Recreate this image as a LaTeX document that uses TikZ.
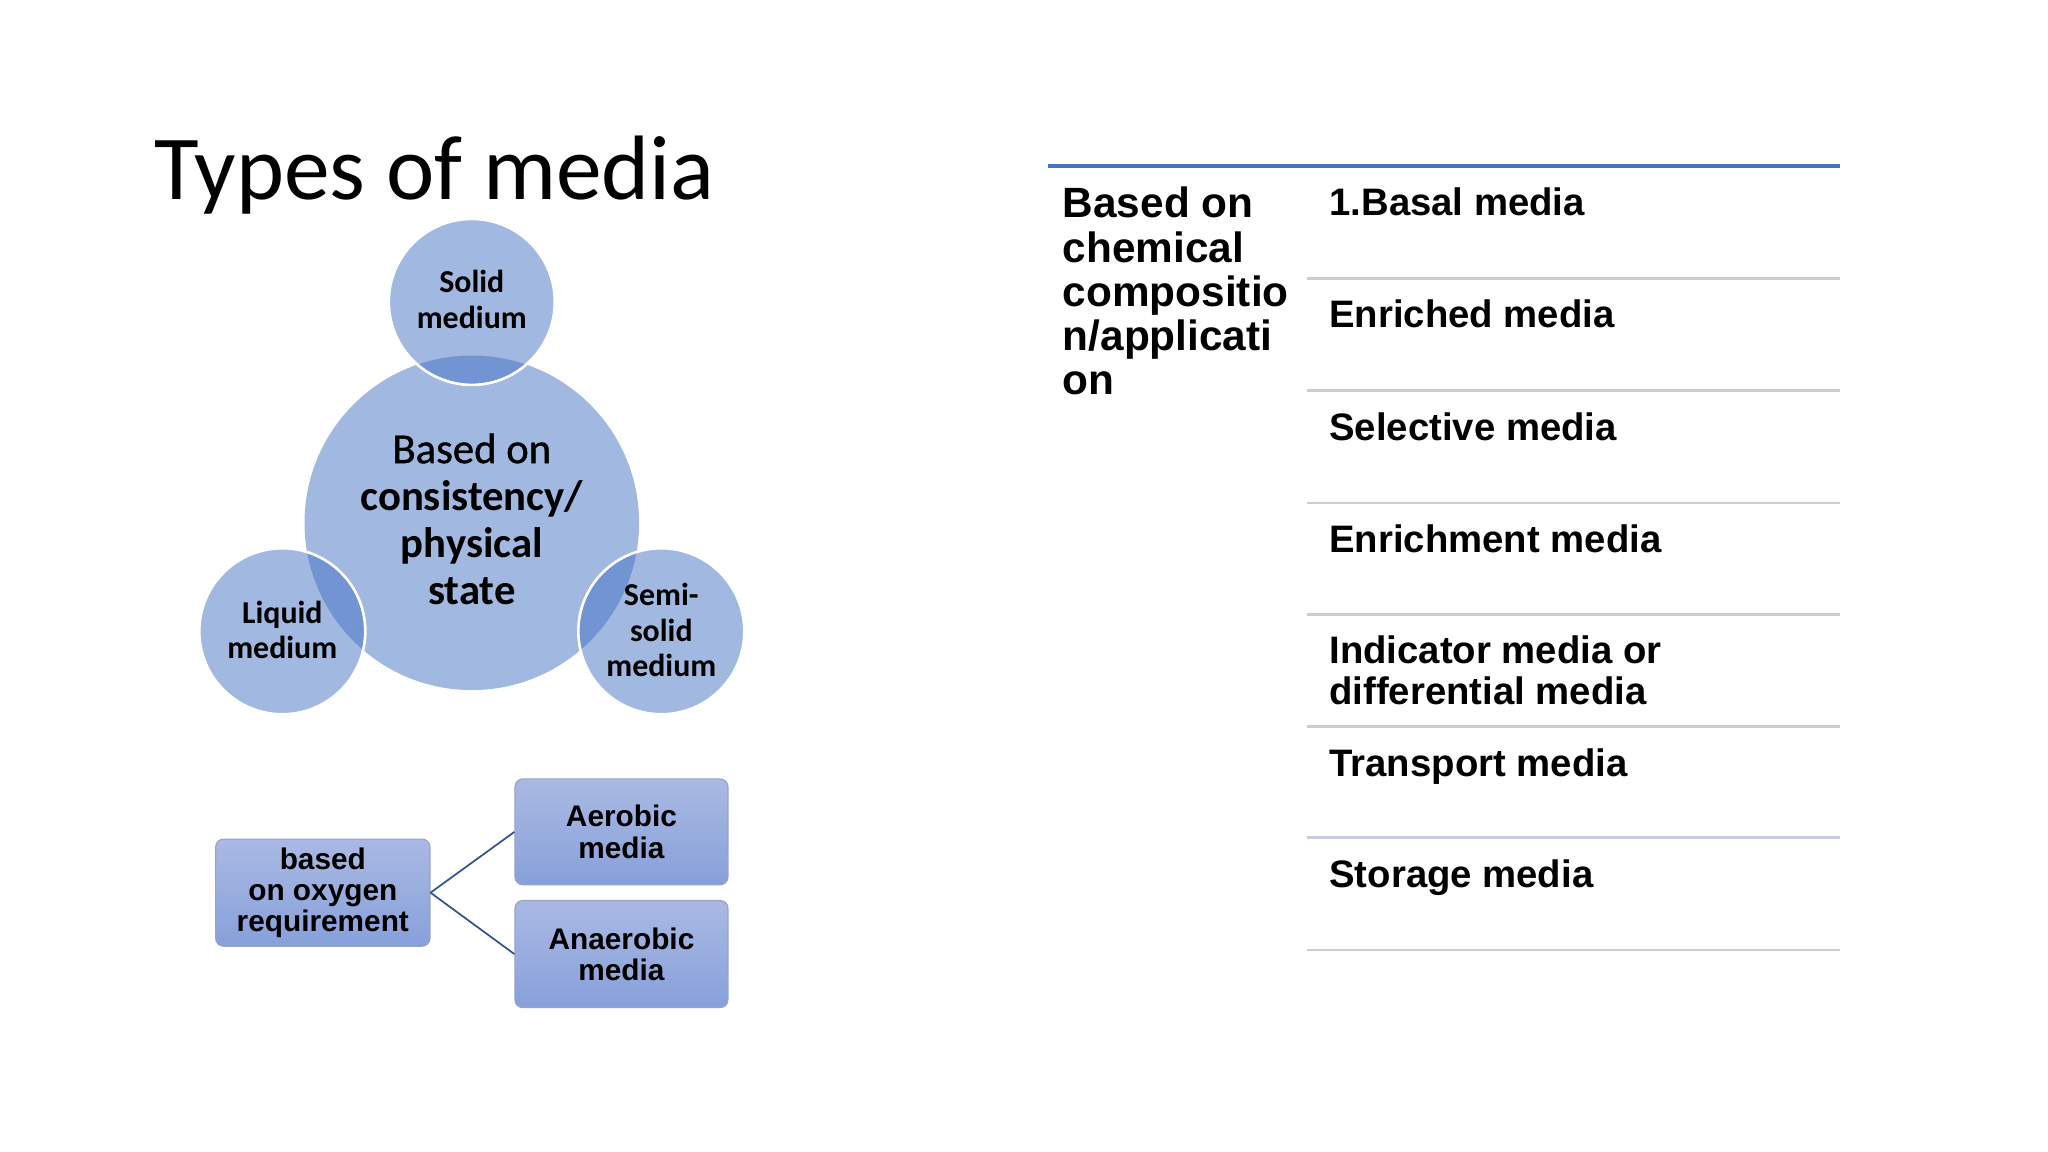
\documentclass[tikz,border=0pt]{standalone}
\usepackage{fontspec}
\setmainfont{Liberation Sans}
\newfontfamily\calibri{Carlito}
\newfontfamily\calsemi{Carlito}[FakeBold=0.9]
\newfontfamily\arialf{Liberation Sans}
\definecolor{circ}{HTML}{4472C4}
\definecolor{boxtop}{HTML}{AAB9E3}
\definecolor{boxbot}{HTML}{87A0DA}
\definecolor{boxline}{HTML}{97A3C6}
\definecolor{connc}{HTML}{2F528F}
\definecolor{topline}{HTML}{4472C4}
\definecolor{sepline}{HTML}{C9CBE6}
\begin{document}
\begin{tikzpicture}[x=1pt,y=-1pt,
  bigc/.style={circle, minimum size=256pt, inner sep=0pt, fill=circ, fill opacity=0.5, text opacity=1,
    font=\calibri\bfseries\fontsize{32.7}{36}\selectfont, align=center},
  smallc/.style={circle, minimum size=127pt, inner sep=0pt, fill=circ, fill opacity=0.5,
    draw=white, draw opacity=1, line width=2pt, text opacity=1,
    font=\calibri\bfseries\fontsize{24.4}{27}\selectfont, align=center},
  obox/.style={rectangle, rounded corners=6pt, draw=boxline, line width=0.8pt,
    top color=boxtop, bottom color=boxbot, align=center, inner sep=0pt,
    font=\arialf\bfseries\fontsize{22.8}{24}\selectfont},
  conn/.style={draw=connc, line width=1.3pt},
  item/.style={anchor=north west, inner sep=0pt, align=left,
    font=\arialf\bfseries\fontsize{29.3}{30.8}\selectfont},
  cat/.style={anchor=north west, inner sep=0pt, align=left,
    font=\arialf\bfseries\fontsize{32.4}{33.8}\selectfont},
  topl/.style={draw=topline, line width=2.6pt},
  sepl/.style={draw=sepline, line width=2pt}
]
\useasboundingbox (0,0) rectangle (1567,881.4);
\fill[white] (0,0) rectangle (1567,881.4);

% title
\node[anchor=base west, inner sep=0pt, font=\calibri\fontsize{70}{80}\selectfont] (title) at (118,153) {Types of media};

% radial circles
\node[bigc] (center) at (361,400) {{\calsemi\mdseries Based on}\\consistency/\\physical\\state\\[-30pt]};
\node[smallc] (solid) at (361,231) {Solid\\medium\\[-23pt]};
\node[smallc] (liquid) at (216,483) {Liquid\\medium\\[-25pt]};
\node[smallc] (semi) at (506,483) {Semi-\\solid\\medium\\[-25pt]};

% oxygen boxes
\node[obox, minimum width=164pt, minimum height=82pt] (oxy) at (247,683) {based\\on oxygen\\requirement};
\node[obox, minimum width=163pt, minimum height=81pt] (aer) at (475.5,636.5) {Aerobic\\media};
\node[obox, minimum width=163pt, minimum height=82pt] (anaer) at (475.5,730) {Anaerobic\\media};
\draw[conn] (oxy.east) -- (aer.west);
\draw[conn] (oxy.east) -- (anaer.west);

% table
\draw[topl] (802,127) -- (1408,127);
\foreach \yy in {213,299,385,470,556,641,727}{
  \draw[sepl] (1000,\yy) -- (1408,\yy);
}
\node[cat] (chem) at (813,143) {Based on\\chemical\\compositio\\n/applicati\\on};
\node[item] (basal) at (1017,143.5) {1.Basal media};
\node[item] (enriched) at (1017,229.5) {Enriched media};
\node[item] (selective) at (1017,315.5) {Selective media};
\node[item] (enrichment) at (1017,401.5) {Enrichment media};
\node[item] (indicator) at (1017,486.5) {Indicator media or\\differential media};
\node[item] (transport) at (1017,572.5) {Transport media};
\node[item] (storage) at (1017,657.5) {Storage media};
\end{tikzpicture}
\end{document}
